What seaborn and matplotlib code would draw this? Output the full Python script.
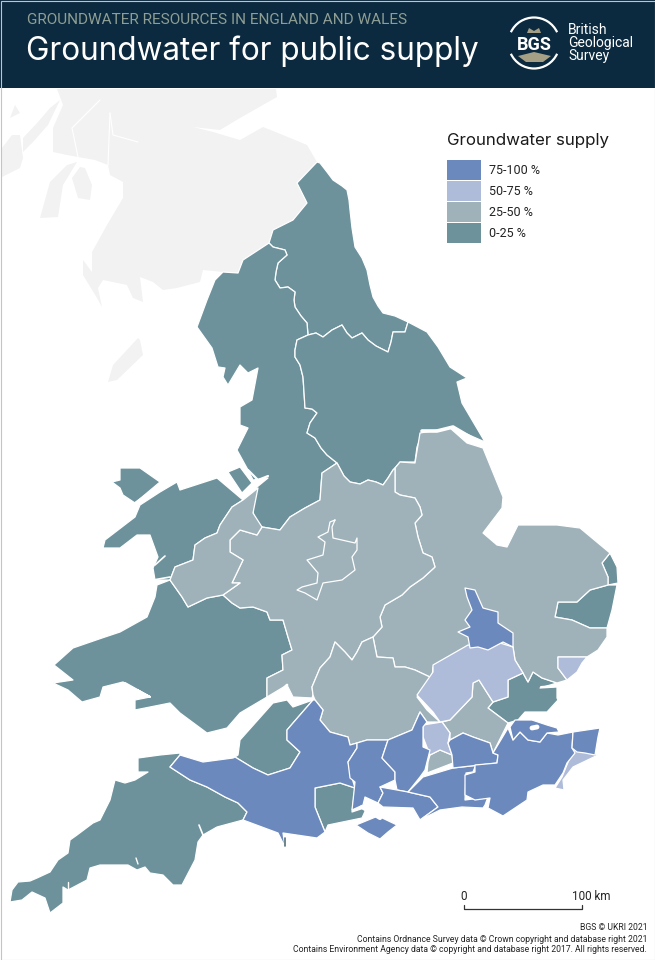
import matplotlib
matplotlib.use('Agg')
import matplotlib.pyplot as plt
from matplotlib.patches import Rectangle, Arc, Polygon
import seaborn as sns
import pandas as pd

#################################
# legend bands and colours

band_labels = ['75-100 %', '50-75 %', '25-50 %', '0-25 %']
band_colors = ['#6c89bd', '#aebbd9', '#9fb2ba', '#6d929c']

title = 'Groundwater for public supply'
subtitle = 'GROUNDWATER RESOURCES IN ENGLAND AND WALES'
footer = ['BGS © UKRI 2021',
          'Contains Ordnance Survey data © Crown copyright and database right 2021',
          'Contains Environment Agency data © copyright and database right 2017. All rights reserved.']

#################################
# outlines, in picture pixels

# shared borders
tees = [(308,335),(316,333),(323,337),(332,330),(342,325),(347,333),(352,338),(362,333),(368,340),(376,346),(388,352),(391,342),(393,332),(405,332),(408,322)]
pennines_n = [(269,243),(273,247),(285,250),(287,255),(278,263),(276,272),(275,280),(280,288),(288,287),(295,292),(294,300),(295,307),(301,316),(307,323),(308,335)]
pennines_s = [(308,335),(297,340),(295,350),(295,357),(300,365),(303,377),(304,392),(305,408),(312,409),(317,413),(310,423),(307,433),(315,438),(321,448),(327,455),(337,463)]
peak = [(337,463),(344,476),(350,482),(360,484),(368,480),(376,482),(383,485),(388,478),(393,470),(395,468)]
fens_w = [(395,468),(395,492),(400,495),(415,498),(420,507),(422,515),(415,523),(418,537),(423,553),(432,557),(435,567),(423,578),(410,587),(402,595),(385,605),(380,617),(382,627),(373,637)]
thames_n = [(373,637),(377,657),(393,658),(395,667),(405,667),(415,670),(432,678)]
cotswold = [(373,637),(362,642),(357,652),(352,660),(345,652),(335,642),(330,657),(320,668),(312,687),(313,695)]
wessex_n = [(315,700),(323,710),(320,720),(330,732),(348,737),(350,745)]
marches = [(223,595),(232,603),(240,608),(253,607),(267,612),(270,620),(283,620),(288,637),(292,650),(282,655),(283,670),(267,678),(267,697)]
mersey_s = [(337,463),(322,473),(320,500),(305,508),(290,517),(280,530),(262,527)]
dee = [(243,500),(232,507),(220,525),(217,533),(205,538),(195,545),(193,560),(175,567),(170,580)]
shrop = [(262,527),(257,535),(240,530),(230,540),(230,552),(243,560),(232,583),(240,583),(223,595)]
wales_mid = [(170,580),(182,597),(188,607),(207,598),(223,595)]
suffolk_n = [(555,617),(558,602),(577,602),(590,590),(608,585)]
suffolk_s = [(555,617),(572,620),(590,628),(607,628)]
wessex_w = [(180,755),(170,767),(190,780),(207,787),(225,797),(238,803),(247,812),(243,820)]
bristol_e = [(293,723),(287,730),(287,740),(300,752),(290,768),(268,775),(253,768),(235,757)]
avon = [(340,783),(315,788),(315,807),(325,832)]
hants_w = [(340,783),(355,788),(352,778),(348,762),(357,748),(357,743)]

# Scotland and islands
scotland = [(57,89),(276,89),(277,97),(240,118),(220,130),(193,127),(213,132),(240,140),(263,127),(283,135),(307,145),(317,162),
            (297,183),(307,203),(293,220),(273,232),(270,243),(243,262),(240,272),(223,272),(203,270),(200,282),(177,288),(163,290),
            (153,282),(140,277),(143,302),(133,298),(127,285),(103,280),(98,288),(102,307),(97,298),(83,275),(83,260),(92,272),
            (92,252),(107,225),(123,198),(123,182),(110,175),(108,165),(95,160),(78,157),(67,155),(53,152),(53,128),(63,105)]
kintyre = [(67,165),(50,182),(40,218),(58,217),(63,185),(77,162)]
arran = [(80,167),(72,178),(78,198),(90,200),(92,185),(85,168)]
islay = [(12,135),(2,148),(2,177),(20,168),(23,158),(20,135)]
jura = [(23,138),(23,152),(33,142),(48,125),(60,100),(50,108),(38,122)]
scarba = [(10,118),(15,105),(20,113)]
man = [(138,338),(113,365),(108,382),(117,380),(143,355),(140,340)]
scot_lochs = [[(100,100),(72,128),(78,157)], [(110,113),(113,135),(138,142)], [(110,113),(108,165)]]

# 0-25 %
northumbria = [(269,243),(273,230),(293,220),(307,203),(297,183),(317,162),(320,163),(327,172),(333,180),(342,186),(347,190),(349,200),(350,210),(352,228),(355,247),(362,258),(367,270),(370,285),(373,297),(378,306),(383,313),(395,316),(408,322)]
northwest = [(269,243),(243,260),(238,273),(223,272),(215,280),(207,300),(197,327),(212,348),(218,367),(225,368),(223,377),(228,385),(240,365),(248,373),(258,368),(252,400),(240,407),(240,425),(248,428),(237,450),(248,470),(253,480),(268,478),(257,487),(253,510),(255,525),(262,527)]
wirral = [(228,472),(240,467),(252,483),(242,493)]
yorkshire = [(408,322),(427,332),(438,347),(450,367),(467,378),(457,382),(462,403),(485,442),(453,428),(437,433),(423,432),(417,447),(415,462),(400,462),(395,468)]
anglesey = [(120,468),(140,468),(160,482),(135,503),(123,495),(120,488),(112,482),(120,480)]
north_wales = [(103,548),(105,540),(135,517),(140,505),(160,492),(177,482),(180,490),(217,478),(243,500)]
north_wales_w = [(170,580),(155,580),(153,568),(158,557),(150,535),(137,535),(120,548)]
south_wales = [(157,585),(170,580)]
south_wales_s = [(267,697),(240,713),(227,728),(207,733),(180,713),(170,703),(135,710),(135,700),(150,697),(123,682),(103,687),(100,697),(82,702),(68,690),(53,683),(73,680),(54,665),(73,648),(102,638),(120,632),(147,617),(155,597)]
cornwall = [(180,753),(160,755),(138,758),(138,772),(148,772),(135,780),(125,783),(115,780),(110,800),(100,820),(93,823),(77,835),(70,840),(68,853),(58,860),(50,872),(37,878),(30,881),(18,882),(12,890),(10,902),(22,900),(32,892),(45,898),(50,913),(63,903),(63,887),(68,890),(87,880),(90,868),(100,865),(128,865),(137,870),(145,867),(150,873),(163,875),(173,885),(182,885),(195,860),(198,842),(203,835),(217,827),(243,820)]
bristol_w = [(235,757),(238,755),(240,740),(273,703),(287,700),(293,707),(313,700)]
hampshire_s = [(340,783),(355,788),(352,812),(367,807),(362,818),(328,825),(325,832)]
essex = [(508,680),(523,673),(528,682),(533,672),(542,678),(557,683),(540,688),(557,687),(557,698),(558,700),(547,712),(525,712),(518,720),(508,723),(488,708),(493,702),(508,697)]
norfolk_broads = [(610,553),(617,567),(618,583),(608,585),(608,577),(602,563)]
suffolk_e = [(608,585),(617,585),(612,610),(607,628)]

# 25-50 %
anglia_coast = [(420,433),(450,428),(467,443),(483,448),(503,497),(502,508),(483,533),(497,545),(507,547),(518,525),(557,525),(580,528),(610,553),(602,563),(608,577),(608,585)]
anglia_south = [(607,628),(607,637),(598,650),(587,657),(558,657),(558,668),(567,680),(557,683),(542,678),(533,672),(528,682),(523,673),(515,660),(513,647)]
anglia_close = [(470,648),(450,657),(433,667),(432,678)]
anglia_top = [(395,468),(400,462),(415,463),(420,433)]
thames_s = [(357,743),(367,740),(388,740),(412,730),(420,712),(427,722),(440,722),(427,710),(417,697),(432,687)]
chester = [(243,500),(258,488),(253,513),(262,527)]
london = [(479,680),(493,702),(488,708),(508,723),(493,753),(490,743),(473,737),(463,733),(450,740),(450,733),(442,722),(450,720),(472,697),(473,683)]
sutton = [(430,755),(440,750),(452,755),(453,763),(427,773),(428,762)]
staffs = [(335,520),(332,527),(333,538),(355,543),(357,538),(357,550),(352,557),(355,570),(342,580),(323,583),(317,600),(305,593),(297,590),(302,587),(317,583),(318,573),(307,560),(323,555),(325,542),(318,537),(328,532),(330,522),(335,520)]

# 50-75 %
valleys = [(433,672),(433,665),(468,645),(488,648),(500,643),(513,647),(515,660),(523,673),(508,680),(508,697),(493,702),(479,680),(473,683),(472,697),(450,720),(440,722),(433,712),(417,695)]
valleys_s = [(423,725),(442,722),(450,733),(448,743),(452,755),(440,750),(430,755),(423,737)]
tendring = [(558,657),(587,657),(582,663),(577,672),(567,680),(558,668)]
dover = [(573,750),(587,750),(598,755),(573,767),(563,780),(564,790),(555,788),(562,777)]

# 75-100 %
cambridge = [(465,588),(475,590),(483,608),(498,612),(498,623),(513,633),(513,647),(503,642),(488,650),(478,647),(470,648),(468,637),(458,632),(470,627),(465,620),(472,610),(467,597)]
wessex_s = [(325,832),(317,838),(283,833),(285,847),(278,833),(243,820)]
wessex_c = [(203,762),(233,758)]
hampshire = [(357,743),(367,740),(388,740),(382,758),(395,772),(395,780),(380,787),(383,793),(378,803),(365,797),(363,805),(352,810),(355,782),(350,778),(348,762),(357,748)]
guildford = [(388,740),(412,730),(420,712),(427,722),(423,727),(423,747),(430,750),(425,770),(420,777),(408,792),(397,790),(395,780),(395,772),(382,758)]
solent = [(380,787),(397,790),(408,792),(430,797),(438,807),(420,820),(413,808),(383,807),(378,803),(383,793)]
weald = [(408,792),(423,777),(453,768),(497,763),(475,767),(473,772),(466,773),(465,800),(488,797),(485,805),(483,808),(462,807),(440,810),(420,820),(438,807),(430,797)]
surrey = [(450,740),(463,733),(473,737),(490,743),(493,753),(498,755),(497,763),(453,768),(452,755),(448,743)]
south_east = [(508,728),(513,740),(520,732),(528,740),(540,742),(547,733),(558,735),(573,732),(572,748),(575,753),(567,763),(563,773),(555,785),(543,785),(528,792),(527,800),(503,816),(488,808),(490,798),(475,800),(465,795),(465,775),(475,772),(475,765),(497,763),(498,755),(493,753)]
medway = [(510,727),(515,720),(532,720),(547,725),(557,728),(559,732),(547,733),(540,742),(528,740),(520,732),(513,740)]
east_kent = [(573,732),(600,728),(598,737),(595,755),(585,753),(577,752),(572,748)]
wight = [(356,825),(378,816),(397,825),(388,832),(380,839),(368,833)]

# table of regions, built from the outlines above
regions = pd.DataFrame([
    ('Scotland', scotland, None), ('Kintyre', kintyre, None), ('Arran', arran, None), ('Islay', islay, None),
    ('Jura', jura, None), ('Scarba', scarba, None), ('Man', man, None),
    ('Northumbria', northumbria + tees[::-1] + pennines_n[::-1], '0-25 %'),
    ('North West', northwest + mersey_s[::-1] + pennines_s[::-1] + pennines_n[::-1], '0-25 %'),
    ('Wirral', wirral, '0-25 %'),
    ('Yorkshire', tees + yorkshire + peak[::-1] + pennines_s[::-1], '0-25 %'),
    ('Anglesey', anglesey, '0-25 %'),
    ('North Wales', north_wales + dee + north_wales_w, '0-25 %'),
    ('South Wales', south_wales + wales_mid + marches + south_wales_s, '0-25 %'),
    ('Cornwall', cornwall + wessex_w[::-1], '0-25 %'),
    ('Bristol', bristol_w + bristol_e, '0-25 %'),
    ('Hampshire Avon', hampshire_s + avon[::-1], '0-25 %'),
    ('Essex', essex, '0-25 %'),
    ('Broads', norfolk_broads, '0-25 %'),
    ('Suffolk', suffolk_n + suffolk_e + suffolk_s[::-1], '0-25 %'),
    ('Anglia', anglia_coast + suffolk_n[::-1] + suffolk_s + anglia_south + anglia_close + thames_n[::-1] + fens_w[::-1] + anglia_top, '25-50 %'),
    ('Midlands', peak + fens_w + cotswold + [(312,698),(293,697),(287,685),(267,697)] + marches[::-1] + shrop[::-1] + mersey_s[::-1], '25-50 %'),
    ('Dee', dee + wales_mid + shrop[::-1] + chester[::-1], '25-50 %'),
    ('Thames', cotswold + wessex_n + thames_s + thames_n[::-1], '25-50 %'),
    ('London', london, '25-50 %'),
    ('Sutton', sutton, '25-50 %'),
    ('Valleys', valleys, '50-75 %'),
    ('Valleys south', valleys_s, '50-75 %'),
    ('Tendring', tendring, '50-75 %'),
    ('Dover', dover, '50-75 %'),
    ('Cambridge', cambridge, '75-100 %'),
    ('Wessex', wessex_w + wessex_s[::-1] + avon[::-1] + hants_w + wessex_n[::-1] + [(313,700),(293,723)] + bristol_e + wessex_c[::-1], '75-100 %'),
    ('Hampshire', hampshire, '75-100 %'),
    ('Guildford', guildford, '75-100 %'),
    ('Solent', solent, '75-100 %'),
    ('Weald', weald, '75-100 %'),
    ('Surrey', surrey, '75-100 %'),
    ('South East', south_east, '75-100 %'),
    ('Medway', medway, '75-100 %'),
    ('East Kent', east_kent, '75-100 %'),
    ('Wight', wight, '75-100 %'),
], columns=['name', 'outline', 'band'])

# estuaries and inlets cut out in white
inlets = [([(422,431),(437,431),(453,427),(470,437),(486,448)], 2.6),
          ([(287,685),(272,701)], 2),
          ([(135,503),(160,485)], 1.5),
          ([(153,580),(170,577)], 1.2),
          ([(155,565),(165,556)], 1.2),
          ([(248,470),(258,480),(268,476)], 1.6),
          ([(199,825),(203,835)], 1.2),
          ([(136,858),(138,864)], 1),
          ([(68,882),(68,890)], 1),
          ([(532,728),(537,727)], 3.5),
          ([(541,687),(555,686)], 1.5),
          ([(362,807),(380,818)], 3),
          ([(137,690),(150,697),(125,683)], 1.5)]

palette = dict(zip(band_labels, sns.color_palette(band_colors)))

sns.set_theme(style='white')
plt.rcParams['font.family'] = ['Roboto', 'DejaVu Sans']

fig = plt.figure(figsize=(6.55, 9.6), dpi=100)
ax = fig.add_axes([0, 0, 1, 1])
ax.set_xlim(0, 655)
ax.set_ylim(960, 0)
ax.axis('off')

# map
for _, row in regions.iterrows():
    x, y = zip(*row['outline'])
    if row['band'] is None:
        ax.fill(x, y, color='#f2f2f3', lw=0, zorder=1)
    else:
        ax.fill(x, y, facecolor=palette[row['band']], edgecolor='white', lw=0.9, joinstyle='round', zorder=2)

for loch in scot_lochs:
    ax.plot(*zip(*loch), color='white', lw=0.8, zorder=1.5)
x, y = zip(*staffs)
ax.plot(x, y, color='white', lw=0.9, zorder=3)
for pts, lw in inlets:
    ax.plot(*zip(*pts), color='white', lw=lw, solid_capstyle='round', zorder=4)
ax.plot([285, 285], [838, 846], color='#55707a', lw=1.2, zorder=4)

# header
ax.add_patch(Rectangle((0, 0), 655, 88, color='#0b2a3f', lw=0, zorder=5))
ax.text(27, 20, subtitle, color='#8f9e93', fontsize=11.1, va='center', zorder=6)
ax.text(26, 51, title, color='white', fontsize=22.7, va='center', zorder=6, family=['Inter', 'DejaVu Sans'])

# logo
ax.add_patch(Arc((534, 43), 51, 51, theta1=25, theta2=155, color='white', lw=1.6, zorder=6))
ax.add_patch(Arc((534, 43), 51, 51, theta1=205, theta2=335, color='white', lw=1.6, zorder=6))
ax.add_patch(Polygon([(527,33),(529,28),(534,31),(539,28),(541,33)], closed=True, color='#a59f86', lw=0, zorder=6))
ax.text(534.5, 45, 'BGS', color='white', fontsize=13, fontweight='bold', ha='center', va='center', zorder=6)
ax.add_patch(Polygon([(518,56),(534,52),(551,56),(543,62),(526,62)], closed=True, color='#a59f86', lw=0, zorder=6))
ax.text(568, 30, 'British', color='white', fontsize=10, va='center', zorder=6)
ax.text(568, 43, 'Geological', color='white', fontsize=10, va='center', zorder=6)
ax.text(568, 56, 'Survey', color='white', fontsize=10, va='center', zorder=6)

# legend
ax.text(447, 140, 'Groundwater supply', color='#1a1a1a', fontsize=12.2, va='center', family=['Inter', 'DejaVu Sans'], zorder=6)
for i, label in enumerate(band_labels):
    ax.add_patch(Rectangle((447, 160 + 21 * i), 34, 20, color=palette[label], lw=0, zorder=6))
    ax.text(489, 170.5 + 21 * i, label, color='#222222', fontsize=9, va='center', zorder=6)

# scale bar
ax.plot([464, 464, 582, 582], [905, 909, 909, 905], color='#333333', lw=0.9, zorder=6)
ax.text(464, 896, '0', color='#222222', fontsize=8.4, ha='center', va='center', zorder=6)
ax.text(572, 896, '100 km', color='#222222', fontsize=8.4, ha='left', va='center', zorder=6)

# footer
for y, line in zip([928, 939, 949], footer):
    ax.text(647, y, line, color='#222222', fontsize=6.25, ha='right', va='center', zorder=6)

# thin grey edge of the sheet
ax.add_patch(Rectangle((0.5, 0.5), 654, 959, fill=False, ec='#c4c4c4', lw=0.8, zorder=7))

fig.savefig('out.png', dpi=100)
